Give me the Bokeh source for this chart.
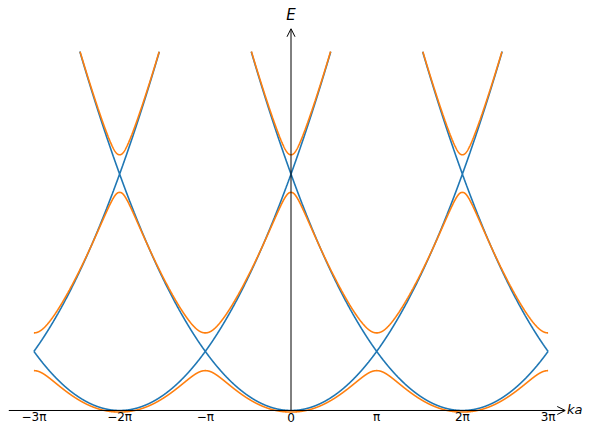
import numpy as np
from bokeh.plotting import figure
from bokeh.models import Arrow, OpenHead
from bokeh.core.properties import value
from bokeh.embed import file_html
from bokeh.resources import INLINE

# ---- chart values (k in units of pi/a, E in units of pi^2 * hbar^2/(2 m a^2)) ----
tick_positions = [-3, -2, -1, 0, 1, 2, 3]
tick_labels = ["\u22123\u03c0", "\u22122\u03c0", "\u2212\u03c0", "0", "\u03c0", "2\u03c0", "3\u03c0"]
gap_V = 0.32        # lattice-potential Fourier component (half band gap)
E_max = 6.074       # curves are drawn up to this energy
k_lo, k_hi = -3.0, 3.0
n_bands = 3
free_color = "#1f77b4"
nfe_color = "#ff7f0e"

# ---- band structure: free electron (repeated zone) and nearly-free electron ----
k = np.linspace(k_lo, k_hi, 4001)
q = np.mod(k + 1.0, 2.0) - 1.0
aq = np.abs(q)
free = np.stack([q ** 2, (2 - aq) ** 2, (2 + aq) ** 2, (4 - aq) ** 2, (4 + aq) ** 2], axis=1)
m = free.shape[1]
H = np.zeros((len(k), m, m))
for i in range(m):
    H[:, i, i] = free[:, i]
    if i + 1 < m:
        H[:, i, i + 1] = gap_V
        H[:, i + 1, i] = gap_V
nfe = np.linalg.eigvalsh(H)

p = figure(width=584, height=425, title=None,
           x_range=(-3.390, 3.425), y_range=(-0.254, 6.937),
           x_axis_location=None, y_axis_location=None,
           toolbar_location=None, output_backend="svg", min_border=0)
p.xgrid.visible = False
p.ygrid.visible = False
p.outline_line_color = None

for b in range(n_bands):
    e = np.where(free[:, b] <= E_max, free[:, b], np.nan)
    p.line(k, e, line_color=free_color, line_width=1.6)
for b in range(n_bands):
    e = np.where(nfe[:, b] <= E_max, nfe[:, b], np.nan)
    p.line(k, e, line_color=nfe_color, line_width=1.6)

# axes with arrows
p.add_layout(Arrow(end=OpenHead(size=8, line_color="black", line_width=1),
                   x_start=-3.293, y_start=0, x_end=3.2, y_end=0,
                   line_color="black", line_width=1))
p.add_layout(Arrow(end=OpenHead(size=8, line_color="black", line_width=1),
                   x_start=0, y_start=0, x_end=0, y_end=6.459,
                   line_color="black", line_width=1))

p.text(x=tick_positions, y=[-0.118] * len(tick_positions), text=tick_labels,
       text_align="center", text_baseline="middle",
       text_font=value("DejaVu Sans"), text_font_size="12px", text_color="black")
p.text(x=[3.401], y=[0.01], text=["ka"], text_align="right", text_baseline="middle",
       text_font=value("DejaVu Sans"), text_font_style="italic",
       text_font_size="13px", text_color="black")
p.text(x=[0], y=[6.684], text=["E"], text_align="center", text_baseline="middle",
       text_font=value("DejaVu Sans"), text_font_style="italic",
       text_font_size="15px", text_color="black")

open("out.html", "w").write(file_html(p, INLINE))
